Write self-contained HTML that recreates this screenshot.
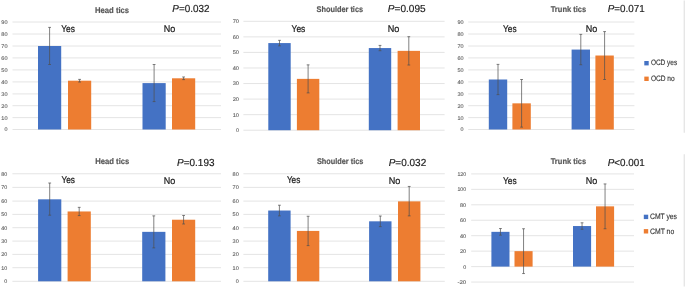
<!DOCTYPE html>
<html lang="en"><head><meta charset="utf-8"><title>Tic charts</title>
<style>
html,body{margin:0;padding:0;background:#fff;}
body{width:685px;height:288px;overflow:hidden;}
svg{display:block;text-rendering:geometricPrecision;font-family:"Liberation Sans",sans-serif;}
</style></head><body>
<svg width="685" height="288" viewBox="0 0 685 288">
<rect width="685" height="288" fill="#ffffff"/>
<line x1="12.50" y1="22.00" x2="221.00" y2="22.00" stroke="#e1e1e1" stroke-width="0.9"/>
<line x1="12.50" y1="34.00" x2="221.00" y2="34.00" stroke="#e1e1e1" stroke-width="0.9"/>
<line x1="12.50" y1="46.00" x2="221.00" y2="46.00" stroke="#e1e1e1" stroke-width="0.9"/>
<line x1="12.50" y1="57.90" x2="221.00" y2="57.90" stroke="#e1e1e1" stroke-width="0.9"/>
<line x1="12.50" y1="69.90" x2="221.00" y2="69.90" stroke="#e1e1e1" stroke-width="0.9"/>
<line x1="12.50" y1="81.90" x2="221.00" y2="81.90" stroke="#e1e1e1" stroke-width="0.9"/>
<line x1="12.50" y1="93.90" x2="221.00" y2="93.90" stroke="#e1e1e1" stroke-width="0.9"/>
<line x1="12.50" y1="105.70" x2="221.00" y2="105.70" stroke="#e1e1e1" stroke-width="0.9"/>
<line x1="12.50" y1="117.60" x2="221.00" y2="117.60" stroke="#e1e1e1" stroke-width="0.9"/>
<line x1="12.50" y1="129.50" x2="221.00" y2="129.50" stroke="#e1e1e1" stroke-width="0.9"/>
<text x="1.30" y="23.90" font-size="5.3" fill="#636363" textLength="6.20" lengthAdjust="spacingAndGlyphs" stroke="#636363" stroke-width="0.12">90</text>
<text x="1.30" y="35.90" font-size="5.3" fill="#636363" textLength="6.20" lengthAdjust="spacingAndGlyphs" stroke="#636363" stroke-width="0.12">80</text>
<text x="1.30" y="47.90" font-size="5.3" fill="#636363" textLength="6.20" lengthAdjust="spacingAndGlyphs" stroke="#636363" stroke-width="0.12">70</text>
<text x="1.30" y="59.80" font-size="5.3" fill="#636363" textLength="6.20" lengthAdjust="spacingAndGlyphs" stroke="#636363" stroke-width="0.12">60</text>
<text x="1.30" y="71.80" font-size="5.3" fill="#636363" textLength="6.20" lengthAdjust="spacingAndGlyphs" stroke="#636363" stroke-width="0.12">50</text>
<text x="1.30" y="83.80" font-size="5.3" fill="#636363" textLength="6.20" lengthAdjust="spacingAndGlyphs" stroke="#636363" stroke-width="0.12">40</text>
<text x="1.30" y="95.80" font-size="5.3" fill="#636363" textLength="6.20" lengthAdjust="spacingAndGlyphs" stroke="#636363" stroke-width="0.12">30</text>
<text x="1.30" y="107.60" font-size="5.3" fill="#636363" textLength="6.20" lengthAdjust="spacingAndGlyphs" stroke="#636363" stroke-width="0.12">20</text>
<text x="1.30" y="119.50" font-size="5.3" fill="#636363" textLength="6.20" lengthAdjust="spacingAndGlyphs" stroke="#636363" stroke-width="0.12">10</text>
<text x="4.50" y="131.40" font-size="5.3" fill="#636363" textLength="3.00" lengthAdjust="spacingAndGlyphs" stroke="#636363" stroke-width="0.12">0</text>
<rect x="38.00" y="46.00" width="23.20" height="83.50" fill="#4472C4"/>
<rect x="68.00" y="80.70" width="23.20" height="48.80" fill="#ED7D31"/>
<rect x="142.50" y="83.10" width="23.20" height="46.40" fill="#4472C4"/>
<rect x="172.00" y="78.30" width="23.20" height="51.20" fill="#ED7D31"/>
<path d="M49.60 27.40V64.50M48.20 27.40h2.8M48.20 64.50h2.8" stroke="#505050" stroke-width="0.72" fill="none"/>
<path d="M79.60 79.38V82.02M78.20 79.38h2.8M78.20 82.02h2.8" stroke="#505050" stroke-width="0.72" fill="none"/>
<path d="M154.10 64.50V101.57M152.70 64.50h2.8M152.70 101.57h2.8" stroke="#505050" stroke-width="0.72" fill="none"/>
<path d="M183.60 76.98V79.62M182.20 76.98h2.8M182.20 79.62h2.8" stroke="#505050" stroke-width="0.72" fill="none"/>
<text x="95.00" y="13.20" font-size="8.2" fill="#595959" font-weight="bold" textLength="34.10" lengthAdjust="spacingAndGlyphs" stroke="#595959" stroke-width="0.2">Head tics</text>
<text x="61.30" y="31.70" font-size="9.7" fill="#1a1a1a" textLength="13.70" lengthAdjust="spacingAndGlyphs" stroke="#1a1a1a" stroke-width="0.22">Yes</text>
<text x="163.80" y="31.90" font-size="9.7" fill="#1a1a1a" textLength="11.50" lengthAdjust="spacingAndGlyphs" stroke="#1a1a1a" stroke-width="0.22">No</text>
<text x="172.30" y="12.20" font-size="10.2" fill="#1a1a1a" stroke="#1a1a1a" stroke-width="0.18" textLength="37.10" lengthAdjust="spacingAndGlyphs"><tspan font-style="italic">P</tspan>=0.032</text>
<line x1="243.40" y1="21.30" x2="444.60" y2="21.30" stroke="#e1e1e1" stroke-width="0.9"/>
<line x1="243.40" y1="36.86" x2="444.60" y2="36.86" stroke="#e1e1e1" stroke-width="0.9"/>
<line x1="243.40" y1="52.42" x2="444.60" y2="52.42" stroke="#e1e1e1" stroke-width="0.9"/>
<line x1="243.40" y1="67.98" x2="444.60" y2="67.98" stroke="#e1e1e1" stroke-width="0.9"/>
<line x1="243.40" y1="83.54" x2="444.60" y2="83.54" stroke="#e1e1e1" stroke-width="0.9"/>
<line x1="243.40" y1="99.10" x2="444.60" y2="99.10" stroke="#e1e1e1" stroke-width="0.9"/>
<line x1="243.40" y1="114.66" x2="444.60" y2="114.66" stroke="#e1e1e1" stroke-width="0.9"/>
<line x1="243.40" y1="130.22" x2="444.60" y2="130.22" stroke="#e1e1e1" stroke-width="0.9"/>
<text x="232.70" y="23.20" font-size="5.3" fill="#636363" textLength="6.30" lengthAdjust="spacingAndGlyphs" stroke="#636363" stroke-width="0.12">70</text>
<text x="232.70" y="38.76" font-size="5.3" fill="#636363" textLength="6.30" lengthAdjust="spacingAndGlyphs" stroke="#636363" stroke-width="0.12">60</text>
<text x="232.70" y="54.32" font-size="5.3" fill="#636363" textLength="6.30" lengthAdjust="spacingAndGlyphs" stroke="#636363" stroke-width="0.12">50</text>
<text x="232.70" y="69.88" font-size="5.3" fill="#636363" textLength="6.30" lengthAdjust="spacingAndGlyphs" stroke="#636363" stroke-width="0.12">40</text>
<text x="232.70" y="85.44" font-size="5.3" fill="#636363" textLength="6.30" lengthAdjust="spacingAndGlyphs" stroke="#636363" stroke-width="0.12">30</text>
<text x="232.70" y="101.00" font-size="5.3" fill="#636363" textLength="6.30" lengthAdjust="spacingAndGlyphs" stroke="#636363" stroke-width="0.12">20</text>
<text x="232.70" y="116.56" font-size="5.3" fill="#636363" textLength="6.30" lengthAdjust="spacingAndGlyphs" stroke="#636363" stroke-width="0.12">10</text>
<text x="236.00" y="132.12" font-size="5.3" fill="#636363" textLength="3.00" lengthAdjust="spacingAndGlyphs" stroke="#636363" stroke-width="0.12">0</text>
<rect x="268.30" y="43.08" width="22.40" height="87.14" fill="#4472C4"/>
<rect x="296.90" y="78.87" width="22.40" height="51.35" fill="#ED7D31"/>
<rect x="368.80" y="48.06" width="22.40" height="82.16" fill="#4472C4"/>
<rect x="397.60" y="50.86" width="22.40" height="79.36" fill="#ED7D31"/>
<path d="M279.50 40.33V45.84M278.10 40.33h2.8M278.10 45.84h2.8" stroke="#505050" stroke-width="0.72" fill="none"/>
<path d="M308.10 64.87V92.88M306.70 64.87h2.8M306.70 92.88h2.8" stroke="#505050" stroke-width="0.72" fill="none"/>
<path d="M380.00 45.42V50.71M378.60 45.42h2.8M378.60 50.71h2.8" stroke="#505050" stroke-width="0.72" fill="none"/>
<path d="M408.80 36.70V65.02M407.40 36.70h2.8M407.40 65.02h2.8" stroke="#505050" stroke-width="0.72" fill="none"/>
<text x="316.50" y="11.70" font-size="8.2" fill="#595959" font-weight="bold" textLength="46.60" lengthAdjust="spacingAndGlyphs" stroke="#595959" stroke-width="0.2">Shoulder tics</text>
<text x="291.60" y="31.90" font-size="9.7" fill="#1a1a1a" textLength="13.70" lengthAdjust="spacingAndGlyphs" stroke="#1a1a1a" stroke-width="0.22">Yes</text>
<text x="387.80" y="31.90" font-size="9.7" fill="#1a1a1a" textLength="11.60" lengthAdjust="spacingAndGlyphs" stroke="#1a1a1a" stroke-width="0.22">No</text>
<text x="387.80" y="12.20" font-size="10.2" fill="#1a1a1a" stroke="#1a1a1a" stroke-width="0.18" textLength="37.80" lengthAdjust="spacingAndGlyphs"><tspan font-style="italic">P</tspan>=0.095</text>
<line x1="468.20" y1="22.00" x2="634.40" y2="22.00" stroke="#e1e1e1" stroke-width="0.9"/>
<line x1="468.20" y1="34.00" x2="634.40" y2="34.00" stroke="#e1e1e1" stroke-width="0.9"/>
<line x1="468.20" y1="46.00" x2="634.40" y2="46.00" stroke="#e1e1e1" stroke-width="0.9"/>
<line x1="468.20" y1="57.90" x2="634.40" y2="57.90" stroke="#e1e1e1" stroke-width="0.9"/>
<line x1="468.20" y1="69.90" x2="634.40" y2="69.90" stroke="#e1e1e1" stroke-width="0.9"/>
<line x1="468.20" y1="81.90" x2="634.40" y2="81.90" stroke="#e1e1e1" stroke-width="0.9"/>
<line x1="468.20" y1="93.90" x2="634.40" y2="93.90" stroke="#e1e1e1" stroke-width="0.9"/>
<line x1="468.20" y1="105.70" x2="634.40" y2="105.70" stroke="#e1e1e1" stroke-width="0.9"/>
<line x1="468.20" y1="117.60" x2="634.40" y2="117.60" stroke="#e1e1e1" stroke-width="0.9"/>
<line x1="468.20" y1="129.50" x2="634.40" y2="129.50" stroke="#e1e1e1" stroke-width="0.9"/>
<text x="457.40" y="23.90" font-size="5.3" fill="#636363" textLength="6.10" lengthAdjust="spacingAndGlyphs" stroke="#636363" stroke-width="0.12">90</text>
<text x="457.40" y="35.90" font-size="5.3" fill="#636363" textLength="6.10" lengthAdjust="spacingAndGlyphs" stroke="#636363" stroke-width="0.12">80</text>
<text x="457.40" y="47.90" font-size="5.3" fill="#636363" textLength="6.10" lengthAdjust="spacingAndGlyphs" stroke="#636363" stroke-width="0.12">70</text>
<text x="457.40" y="59.80" font-size="5.3" fill="#636363" textLength="6.10" lengthAdjust="spacingAndGlyphs" stroke="#636363" stroke-width="0.12">60</text>
<text x="457.40" y="71.80" font-size="5.3" fill="#636363" textLength="6.10" lengthAdjust="spacingAndGlyphs" stroke="#636363" stroke-width="0.12">50</text>
<text x="457.40" y="83.80" font-size="5.3" fill="#636363" textLength="6.10" lengthAdjust="spacingAndGlyphs" stroke="#636363" stroke-width="0.12">40</text>
<text x="457.40" y="95.80" font-size="5.3" fill="#636363" textLength="6.10" lengthAdjust="spacingAndGlyphs" stroke="#636363" stroke-width="0.12">30</text>
<text x="457.40" y="107.60" font-size="5.3" fill="#636363" textLength="6.10" lengthAdjust="spacingAndGlyphs" stroke="#636363" stroke-width="0.12">20</text>
<text x="457.40" y="119.50" font-size="5.3" fill="#636363" textLength="6.10" lengthAdjust="spacingAndGlyphs" stroke="#636363" stroke-width="0.12">10</text>
<text x="460.50" y="131.40" font-size="5.3" fill="#636363" textLength="3.00" lengthAdjust="spacingAndGlyphs" stroke="#636363" stroke-width="0.12">0</text>
<rect x="488.80" y="79.50" width="18.40" height="50.00" fill="#4472C4"/>
<rect x="512.40" y="103.34" width="18.40" height="26.16" fill="#ED7D31"/>
<rect x="571.60" y="49.57" width="18.40" height="79.93" fill="#4472C4"/>
<rect x="595.40" y="55.52" width="18.40" height="73.98" fill="#ED7D31"/>
<path d="M498.00 64.38V94.61M496.60 64.38h2.8M496.60 94.61h2.8" stroke="#505050" stroke-width="0.72" fill="none"/>
<path d="M521.60 79.50V127.12M520.20 79.50h2.8M520.20 127.12h2.8" stroke="#505050" stroke-width="0.72" fill="none"/>
<path d="M580.80 34.36V64.74M579.40 34.36h2.8M579.40 64.74h2.8" stroke="#505050" stroke-width="0.72" fill="none"/>
<path d="M604.60 31.60V79.50M603.20 31.60h2.8M603.20 79.50h2.8" stroke="#505050" stroke-width="0.72" fill="none"/>
<text x="550.70" y="11.70" font-size="8.2" fill="#595959" font-weight="bold" textLength="35.50" lengthAdjust="spacingAndGlyphs" stroke="#595959" stroke-width="0.2">Trunk tics</text>
<text x="503.10" y="31.90" font-size="9.7" fill="#1a1a1a" textLength="13.50" lengthAdjust="spacingAndGlyphs" stroke="#1a1a1a" stroke-width="0.22">Yes</text>
<text x="585.70" y="31.90" font-size="9.7" fill="#1a1a1a" textLength="11.50" lengthAdjust="spacingAndGlyphs" stroke="#1a1a1a" stroke-width="0.22">No</text>
<text x="607.75" y="12.20" font-size="10.2" fill="#1a1a1a" stroke="#1a1a1a" stroke-width="0.18" textLength="36.95" lengthAdjust="spacingAndGlyphs"><tspan font-style="italic">P</tspan>=0.071</text>
<line x1="12.40" y1="173.75" x2="221.00" y2="173.75" stroke="#e1e1e1" stroke-width="0.9"/>
<line x1="12.40" y1="187.40" x2="221.00" y2="187.40" stroke="#e1e1e1" stroke-width="0.9"/>
<line x1="12.40" y1="201.10" x2="221.00" y2="201.10" stroke="#e1e1e1" stroke-width="0.9"/>
<line x1="12.40" y1="214.40" x2="221.00" y2="214.40" stroke="#e1e1e1" stroke-width="0.9"/>
<line x1="12.40" y1="227.70" x2="221.00" y2="227.70" stroke="#e1e1e1" stroke-width="0.9"/>
<line x1="12.40" y1="241.10" x2="221.00" y2="241.10" stroke="#e1e1e1" stroke-width="0.9"/>
<line x1="12.40" y1="254.40" x2="221.00" y2="254.40" stroke="#e1e1e1" stroke-width="0.9"/>
<line x1="12.40" y1="267.70" x2="221.00" y2="267.70" stroke="#e1e1e1" stroke-width="0.9"/>
<line x1="12.40" y1="281.30" x2="221.00" y2="281.30" stroke="#e1e1e1" stroke-width="0.9"/>
<text x="1.20" y="175.65" font-size="5.3" fill="#636363" textLength="6.00" lengthAdjust="spacingAndGlyphs" stroke="#636363" stroke-width="0.12">80</text>
<text x="1.20" y="189.30" font-size="5.3" fill="#636363" textLength="6.00" lengthAdjust="spacingAndGlyphs" stroke="#636363" stroke-width="0.12">70</text>
<text x="1.20" y="203.00" font-size="5.3" fill="#636363" textLength="6.00" lengthAdjust="spacingAndGlyphs" stroke="#636363" stroke-width="0.12">60</text>
<text x="1.20" y="216.30" font-size="5.3" fill="#636363" textLength="6.00" lengthAdjust="spacingAndGlyphs" stroke="#636363" stroke-width="0.12">50</text>
<text x="1.20" y="229.60" font-size="5.3" fill="#636363" textLength="6.00" lengthAdjust="spacingAndGlyphs" stroke="#636363" stroke-width="0.12">40</text>
<text x="1.20" y="243.00" font-size="5.3" fill="#636363" textLength="6.00" lengthAdjust="spacingAndGlyphs" stroke="#636363" stroke-width="0.12">30</text>
<text x="1.20" y="256.30" font-size="5.3" fill="#636363" textLength="6.00" lengthAdjust="spacingAndGlyphs" stroke="#636363" stroke-width="0.12">20</text>
<text x="1.20" y="269.60" font-size="5.3" fill="#636363" textLength="6.00" lengthAdjust="spacingAndGlyphs" stroke="#636363" stroke-width="0.12">10</text>
<text x="4.20" y="283.20" font-size="5.3" fill="#636363" textLength="3.00" lengthAdjust="spacingAndGlyphs" stroke="#636363" stroke-width="0.12">0</text>
<rect x="38.10" y="199.32" width="23.20" height="81.98" fill="#4472C4"/>
<rect x="67.60" y="211.47" width="23.20" height="69.83" fill="#ED7D31"/>
<rect x="142.20" y="231.85" width="23.20" height="49.45" fill="#4472C4"/>
<rect x="172.00" y="219.72" width="23.20" height="61.58" fill="#ED7D31"/>
<path d="M49.70 183.03V215.20M48.30 183.03h2.8M48.30 215.20h2.8" stroke="#505050" stroke-width="0.72" fill="none"/>
<path d="M79.20 207.35V215.60M77.80 207.35h2.8M77.80 215.60h2.8" stroke="#505050" stroke-width="0.72" fill="none"/>
<path d="M153.80 215.86V247.88M152.40 215.86h2.8M152.40 247.88h2.8" stroke="#505050" stroke-width="0.72" fill="none"/>
<path d="M183.60 215.46V223.98M182.20 215.46h2.8M182.20 223.98h2.8" stroke="#505050" stroke-width="0.72" fill="none"/>
<text x="95.30" y="163.80" font-size="8.2" fill="#595959" font-weight="bold" textLength="34.00" lengthAdjust="spacingAndGlyphs" stroke="#595959" stroke-width="0.2">Head tics</text>
<text x="61.50" y="182.60" font-size="9.7" fill="#1a1a1a" textLength="13.50" lengthAdjust="spacingAndGlyphs" stroke="#1a1a1a" stroke-width="0.22">Yes</text>
<text x="163.80" y="184.00" font-size="9.7" fill="#1a1a1a" textLength="11.50" lengthAdjust="spacingAndGlyphs" stroke="#1a1a1a" stroke-width="0.22">No</text>
<text x="177.10" y="165.90" font-size="10.2" fill="#1a1a1a" stroke="#1a1a1a" stroke-width="0.18" textLength="37.40" lengthAdjust="spacingAndGlyphs"><tspan font-style="italic">P</tspan>=0.193</text>
<line x1="243.40" y1="173.75" x2="444.80" y2="173.75" stroke="#e1e1e1" stroke-width="0.9"/>
<line x1="243.40" y1="187.40" x2="444.80" y2="187.40" stroke="#e1e1e1" stroke-width="0.9"/>
<line x1="243.40" y1="201.10" x2="444.80" y2="201.10" stroke="#e1e1e1" stroke-width="0.9"/>
<line x1="243.40" y1="214.40" x2="444.80" y2="214.40" stroke="#e1e1e1" stroke-width="0.9"/>
<line x1="243.40" y1="227.70" x2="444.80" y2="227.70" stroke="#e1e1e1" stroke-width="0.9"/>
<line x1="243.40" y1="241.10" x2="444.80" y2="241.10" stroke="#e1e1e1" stroke-width="0.9"/>
<line x1="243.40" y1="254.40" x2="444.80" y2="254.40" stroke="#e1e1e1" stroke-width="0.9"/>
<line x1="243.40" y1="267.70" x2="444.80" y2="267.70" stroke="#e1e1e1" stroke-width="0.9"/>
<line x1="243.40" y1="281.30" x2="444.80" y2="281.30" stroke="#e1e1e1" stroke-width="0.9"/>
<text x="232.60" y="175.65" font-size="5.3" fill="#636363" textLength="6.20" lengthAdjust="spacingAndGlyphs" stroke="#636363" stroke-width="0.12">80</text>
<text x="232.60" y="189.30" font-size="5.3" fill="#636363" textLength="6.20" lengthAdjust="spacingAndGlyphs" stroke="#636363" stroke-width="0.12">70</text>
<text x="232.60" y="203.00" font-size="5.3" fill="#636363" textLength="6.20" lengthAdjust="spacingAndGlyphs" stroke="#636363" stroke-width="0.12">60</text>
<text x="232.60" y="216.30" font-size="5.3" fill="#636363" textLength="6.20" lengthAdjust="spacingAndGlyphs" stroke="#636363" stroke-width="0.12">50</text>
<text x="232.60" y="229.60" font-size="5.3" fill="#636363" textLength="6.20" lengthAdjust="spacingAndGlyphs" stroke="#636363" stroke-width="0.12">40</text>
<text x="232.60" y="243.00" font-size="5.3" fill="#636363" textLength="6.20" lengthAdjust="spacingAndGlyphs" stroke="#636363" stroke-width="0.12">30</text>
<text x="232.60" y="256.30" font-size="5.3" fill="#636363" textLength="6.20" lengthAdjust="spacingAndGlyphs" stroke="#636363" stroke-width="0.12">20</text>
<text x="232.60" y="269.60" font-size="5.3" fill="#636363" textLength="6.20" lengthAdjust="spacingAndGlyphs" stroke="#636363" stroke-width="0.12">10</text>
<text x="235.80" y="283.20" font-size="5.3" fill="#636363" textLength="3.00" lengthAdjust="spacingAndGlyphs" stroke="#636363" stroke-width="0.12">0</text>
<rect x="268.20" y="210.54" width="22.40" height="70.76" fill="#4472C4"/>
<rect x="296.90" y="230.92" width="22.40" height="50.38" fill="#ED7D31"/>
<rect x="369.10" y="221.32" width="22.40" height="59.98" fill="#4472C4"/>
<rect x="398.00" y="201.37" width="22.40" height="79.93" fill="#ED7D31"/>
<path d="M279.40 205.22V215.86M278.00 205.22h2.8M278.00 215.86h2.8" stroke="#505050" stroke-width="0.72" fill="none"/>
<path d="M308.10 216.26V245.62M306.70 216.26h2.8M306.70 245.62h2.8" stroke="#505050" stroke-width="0.72" fill="none"/>
<path d="M380.30 216.00V226.64M378.90 216.00h2.8M378.90 226.64h2.8" stroke="#505050" stroke-width="0.72" fill="none"/>
<path d="M409.20 186.44V215.86M407.80 186.44h2.8M407.80 215.86h2.8" stroke="#505050" stroke-width="0.72" fill="none"/>
<text x="316.90" y="163.80" font-size="8.2" fill="#595959" font-weight="bold" textLength="46.50" lengthAdjust="spacingAndGlyphs" stroke="#595959" stroke-width="0.2">Shoulder tics</text>
<text x="286.90" y="183.00" font-size="9.7" fill="#1a1a1a" textLength="13.40" lengthAdjust="spacingAndGlyphs" stroke="#1a1a1a" stroke-width="0.22">Yes</text>
<text x="388.70" y="184.00" font-size="9.7" fill="#1a1a1a" textLength="11.60" lengthAdjust="spacingAndGlyphs" stroke="#1a1a1a" stroke-width="0.22">No</text>
<text x="388.70" y="165.90" font-size="10.2" fill="#1a1a1a" stroke="#1a1a1a" stroke-width="0.18" textLength="37.50" lengthAdjust="spacingAndGlyphs"><tspan font-style="italic">P</tspan>=0.032</text>
<line x1="471.20" y1="173.90" x2="634.00" y2="173.90" stroke="#e1e1e1" stroke-width="0.9"/>
<line x1="471.20" y1="189.35" x2="634.00" y2="189.35" stroke="#e1e1e1" stroke-width="0.9"/>
<line x1="471.20" y1="204.80" x2="634.00" y2="204.80" stroke="#e1e1e1" stroke-width="0.9"/>
<line x1="471.20" y1="220.25" x2="634.00" y2="220.25" stroke="#e1e1e1" stroke-width="0.9"/>
<line x1="471.20" y1="235.70" x2="634.00" y2="235.70" stroke="#e1e1e1" stroke-width="0.9"/>
<line x1="471.20" y1="251.15" x2="634.00" y2="251.15" stroke="#e1e1e1" stroke-width="0.9"/>
<line x1="471.20" y1="266.60" x2="634.00" y2="266.60" stroke="#e1e1e1" stroke-width="0.9"/>
<line x1="471.20" y1="282.05" x2="634.00" y2="282.05" stroke="#e1e1e1" stroke-width="0.9"/>
<text x="457.40" y="175.80" font-size="5.3" fill="#636363" textLength="8.80" lengthAdjust="spacingAndGlyphs" stroke="#636363" stroke-width="0.12">120</text>
<text x="457.40" y="191.25" font-size="5.3" fill="#636363" textLength="8.80" lengthAdjust="spacingAndGlyphs" stroke="#636363" stroke-width="0.12">100</text>
<text x="460.00" y="206.70" font-size="5.3" fill="#636363" textLength="6.20" lengthAdjust="spacingAndGlyphs" stroke="#636363" stroke-width="0.12">80</text>
<text x="460.00" y="222.15" font-size="5.3" fill="#636363" textLength="6.20" lengthAdjust="spacingAndGlyphs" stroke="#636363" stroke-width="0.12">60</text>
<text x="460.00" y="237.60" font-size="5.3" fill="#636363" textLength="6.20" lengthAdjust="spacingAndGlyphs" stroke="#636363" stroke-width="0.12">40</text>
<text x="460.00" y="253.05" font-size="5.3" fill="#636363" textLength="6.20" lengthAdjust="spacingAndGlyphs" stroke="#636363" stroke-width="0.12">20</text>
<text x="463.20" y="268.50" font-size="5.3" fill="#636363" textLength="3.00" lengthAdjust="spacingAndGlyphs" stroke="#636363" stroke-width="0.12">0</text>
<text x="457.40" y="283.95" font-size="5.3" fill="#636363" textLength="8.80" lengthAdjust="spacingAndGlyphs" stroke="#636363" stroke-width="0.12">-20</text>
<rect x="491.40" y="231.84" width="18.10" height="34.76" fill="#4472C4"/>
<rect x="514.50" y="251.15" width="18.10" height="15.45" fill="#ED7D31"/>
<rect x="573.00" y="226.04" width="18.10" height="40.56" fill="#4472C4"/>
<rect x="596.00" y="206.35" width="18.10" height="60.25" fill="#ED7D31"/>
<path d="M500.45 228.52V235.16M499.05 228.52h2.8M499.05 235.16h2.8" stroke="#505050" stroke-width="0.72" fill="none"/>
<path d="M523.55 228.75V273.55M522.15 228.75h2.8M522.15 273.55h2.8" stroke="#505050" stroke-width="0.72" fill="none"/>
<path d="M582.05 222.80V229.29M580.65 222.80h2.8M580.65 229.29h2.8" stroke="#505050" stroke-width="0.72" fill="none"/>
<path d="M605.05 183.94V228.75M603.65 183.94h2.8M603.65 228.75h2.8" stroke="#505050" stroke-width="0.72" fill="none"/>
<text x="550.70" y="163.80" font-size="8.2" fill="#595959" font-weight="bold" textLength="35.50" lengthAdjust="spacingAndGlyphs" stroke="#595959" stroke-width="0.2">Trunk tics</text>
<text x="502.90" y="183.80" font-size="9.7" fill="#1a1a1a" textLength="13.70" lengthAdjust="spacingAndGlyphs" stroke="#1a1a1a" stroke-width="0.22">Yes</text>
<text x="585.70" y="184.00" font-size="9.7" fill="#1a1a1a" textLength="11.50" lengthAdjust="spacingAndGlyphs" stroke="#1a1a1a" stroke-width="0.22">No</text>
<text x="607.75" y="165.90" font-size="10.2" fill="#1a1a1a" stroke="#1a1a1a" stroke-width="0.18" textLength="36.95" lengthAdjust="spacingAndGlyphs"><tspan font-style="italic">P</tspan>&lt;0.001</text>
<rect x="644.30" y="61.00" width="4.4" height="4.4" fill="#4472C4"/>
<rect x="644.30" y="76.60" width="4.4" height="4.4" fill="#ED7D31"/>
<text x="650.90" y="65.40" font-size="7.9" fill="#383838" textLength="26.30" lengthAdjust="spacingAndGlyphs" stroke="#383838" stroke-width="0.15">OCD yes</text>
<text x="650.90" y="81.00" font-size="7.9" fill="#383838" textLength="23.80" lengthAdjust="spacingAndGlyphs" stroke="#383838" stroke-width="0.15">OCD no</text>
<rect x="643.80" y="214.70" width="4.4" height="4.4" fill="#4472C4"/>
<rect x="643.80" y="229.10" width="4.4" height="4.4" fill="#ED7D31"/>
<text x="650.00" y="219.10" font-size="7.9" fill="#383838" textLength="27.00" lengthAdjust="spacingAndGlyphs" stroke="#383838" stroke-width="0.15">CMT yes</text>
<text x="650.00" y="233.50" font-size="7.9" fill="#383838" textLength="24.20" lengthAdjust="spacingAndGlyphs" stroke="#383838" stroke-width="0.15">CMT no</text>
<line x1="684.3" y1="0.5" x2="684.3" y2="132.8" stroke="#e6e6e6" stroke-width="1.4"/>
<line x1="684.3" y1="154.3" x2="684.3" y2="286.5" stroke="#e6e6e6" stroke-width="1.4"/>
</svg>
</body></html>
